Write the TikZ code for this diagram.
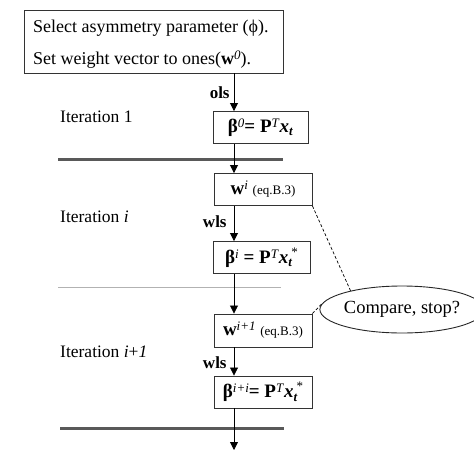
\documentclass[tikz,border=0pt]{standalone}
\usepackage{fontspec}
\setmainfont{Liberation Serif}
\usetikzlibrary{arrows.meta,shapes.geometric}
\newcommand{\upsc}[1]{\raisebox{5pt}{\fontsize{13}{13}\selectfont #1}}
\newcommand{\dnsc}[1]{\raisebox{-3.5pt}{\fontsize{13}{13}\selectfont #1}}
\newcommand{\upst}{\raisebox{7pt}{\fontsize{13}{13}\selectfont *}}
\begin{document}
\begin{tikzpicture}[x=1pt,y=-1pt,
  box/.style={draw=black!80, line width=0.9pt, rectangle, inner sep=0pt, minimum width=98pt, minimum height=32pt, font=\fontsize{19}{22}\selectfont},
  flow/.style={-{Triangle[length=8pt,width=8pt]}, line width=0.8pt},
  lbl/.style={font=\fontsize{17.5}{20}\selectfont, anchor=west, inner sep=0pt},
  edgelbl/.style={font=\fontsize{17}{20}\selectfont\bfseries, anchor=east, inner sep=0pt},
  thick sep/.style={line width=3pt, draw=black!65},
  thin sep/.style={line width=0.8pt, draw=black!30},
  dash link/.style={dashed, line width=0.7pt, dash pattern=on 3pt off 2pt}
]
\useasboundingbox (0,0) rectangle (474,474);

\node[draw=black!80, line width=0.9pt, minimum width=259pt, minimum height=63pt, inner sep=0pt] (top) at (153.5,41.5) {};
\node[anchor=west, inner sep=0pt, font=\fontsize{18}{20}\selectfont] (t1) at (33,28) {Select asymmetry parameter (ϕ).};
\node[anchor=west, inner sep=0pt, font=\fontsize{18}{20}\selectfont] (t2) at (33,60) {Set weight vector to ones(\textbf{w}\upsc{\textit{0}}).};

\node[box, minimum width=95pt] (b0) at (260.5,127.5) {\textbf{β}\upsc{\textit{0}}\textbf{= P}\upsc{\textit{T}}\textbf{\textit{x}}\dnsc{\textbf{\textit{t}}}};
\node[box] (wi) at (263,189.5) {\textbf{w}\upsc{\textit{i}} {\fontsize{13}{13}\selectfont (eq.B.3)}};
\node[box, minimum width=97pt] (bi) at (261.5,257.5) {\textbf{β}\upsc{\textit{i}} \textbf{= P}\upsc{\textit{T}}\textbf{\textit{x}}\rlap{\dnsc{\textbf{\textit{t}}}}\hspace{3pt}\upst};
\node[box, minimum height=33pt] (wi1) at (263,330.5) {\textbf{w}\upsc{\textit{i+1}} {\fontsize{13}{13}\selectfont (eq.B.3)}};
\node[box] (bi1) at (263,392) {\textbf{β}\upsc{\textit{i+i}}\textbf{= P}\upsc{\textit{T}}\textbf{\textit{x}}\rlap{\dnsc{\textbf{\textit{t}}}}\hspace{3pt}\upst};

\node[draw=black!85, line width=0.9pt, ellipse, minimum width=129pt, minimum height=47pt, inner sep=0pt, font=\fontsize{18.5}{20}\selectfont] (cmp) at (402,309.5) {Compare, stop?};

\node[lbl] (it1) at (60,117) {Iteration 1};
\node[lbl] (iti) at (60,217) {Iteration \textit{i}};
\node[lbl] (iti1) at (60,352) {Iteration \textit{i}+\textit{1}};

\draw[thick sep] (58,159) -- (283,159);
\draw[thin sep] (58,287) -- (281,287);
\draw[thick sep] (60,428) -- (284,428);

\coordinate (ax) at (234,0);
\coordinate (endpt) at (234,450);

\draw[flow] (top.south -| ax) -- node[edgelbl, pos=0.52, xshift=-4pt] (ols) {ols} (b0.north -| ax);
\draw[flow] (b0.south -| ax) -- (wi.north -| ax);
\draw[flow] (wi.south -| ax) -- node[edgelbl, pos=0.45, xshift=-7pt] (wls1) {wls} (bi.north -| ax);
\draw[flow] (bi.south -| ax) -- (wi1.north -| ax);
\draw[flow] (wi1.south -| ax) -- node[edgelbl, pos=0.55, xshift=-7pt] (wls2) {wls} (bi1.north -| ax);
\draw[flow] (bi1.south -| ax) -- (endpt);

\draw[dash link] (wi.south east) -- (cmp.160);
\draw[dash link] (wi1.north east) -- (cmp.176);
\end{tikzpicture}
\end{document}
